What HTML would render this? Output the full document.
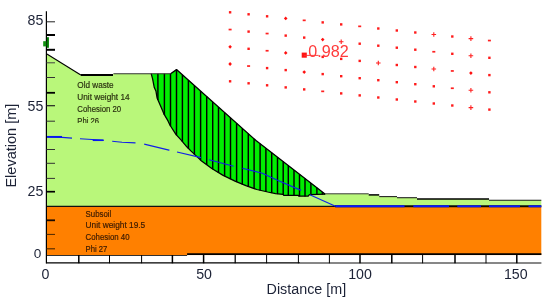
<!DOCTYPE html>
<html><head><meta charset="utf-8"><title>Slope stability</title>
<style>html,body{margin:0;padding:0;background:#fff}body{width:550px;height:304px;overflow:hidden}</style></head>
<body>
<svg width="550" height="304" viewBox="0 0 550 304" style="display:block">
<rect width="550" height="304" fill="#fff"/>
<polygon points="46.9,206.5 46.9,54.0 80.8,75.0 113.0,75.0 113.4,73.8 170.6,73.7 176.5,69.6 256.0,140.5 325.3,194.2 325.5,193.8 368.7,193.8 368.7,194.9 379.2,194.9 379.2,196.6 397.0,196.6 397.0,197.7 417.0,197.7 417.0,198.9 489.0,198.9 489.0,200.3 541.3,200.3 541.3,206.5" fill="#b9f77a"/>
<rect x="46.9" y="206.5" width="494.4" height="48.8" fill="#ff8000"/>
<polygon points="151.2,73.7 170.6,73.7 176.5,69.6 256.0,140.5 325.3,194.2 309.4,194.7 308.2,196.1 298.8,196.1 298.4,195.3 283.6,195.3 283.1,194.4 275.5,193.6 267.7,192.0 256.8,189.5 245.9,185.7 235.0,181.1 222.7,175.1 211.8,168.5 200.9,160.4 191.1,151.1 186.8,146.8 181.4,140.3 175.9,134.3 169.9,125.0 168.0,120.9 164.2,114.4 160.9,106.7 157.1,98.0 155.9,90.9 154.3,87.6 152.6,78.9 151.2,73.7" fill="#00ee00"/>
<line x1="157.9" y1="73.7" x2="157.9" y2="100.1" stroke="#000" stroke-width="1.45"/>
<line x1="164.4" y1="73.7" x2="164.4" y2="115.0" stroke="#000" stroke-width="1.45"/>
<line x1="170.5" y1="73.7" x2="170.5" y2="126.2" stroke="#000" stroke-width="1.45"/>
<line x1="176.5" y1="69.6" x2="176.5" y2="135.3" stroke="#000" stroke-width="1.45"/>
<line x1="182.4" y1="74.9" x2="182.4" y2="141.8" stroke="#000" stroke-width="1.45"/>
<line x1="188.4" y1="80.2" x2="188.4" y2="148.7" stroke="#000" stroke-width="1.45"/>
<line x1="194.4" y1="85.6" x2="194.4" y2="154.5" stroke="#000" stroke-width="1.45"/>
<line x1="200.6" y1="91.1" x2="200.6" y2="160.4" stroke="#000" stroke-width="1.45"/>
<line x1="206.7" y1="96.5" x2="206.7" y2="165.0" stroke="#000" stroke-width="1.45"/>
<line x1="212.7" y1="101.9" x2="212.7" y2="169.3" stroke="#000" stroke-width="1.45"/>
<line x1="218.5" y1="107.1" x2="218.5" y2="172.9" stroke="#000" stroke-width="1.45"/>
<line x1="224.6" y1="112.5" x2="224.6" y2="176.3" stroke="#000" stroke-width="1.45"/>
<line x1="230.5" y1="117.8" x2="230.5" y2="179.2" stroke="#000" stroke-width="1.45"/>
<line x1="236.6" y1="123.2" x2="236.6" y2="182.1" stroke="#000" stroke-width="1.45"/>
<line x1="242.3" y1="128.3" x2="242.3" y2="184.5" stroke="#000" stroke-width="1.45"/>
<line x1="248.3" y1="133.6" x2="248.3" y2="186.8" stroke="#000" stroke-width="1.45"/>
<line x1="254.1" y1="138.8" x2="254.1" y2="188.9" stroke="#000" stroke-width="1.45"/>
<line x1="260.1" y1="143.7" x2="260.1" y2="190.6" stroke="#000" stroke-width="1.45"/>
<line x1="265.9" y1="148.2" x2="265.9" y2="191.9" stroke="#000" stroke-width="1.45"/>
<line x1="271.7" y1="152.7" x2="271.7" y2="193.1" stroke="#000" stroke-width="1.45"/>
<line x1="277.5" y1="157.2" x2="277.5" y2="194.1" stroke="#000" stroke-width="1.45"/>
<line x1="283.2" y1="161.6" x2="283.2" y2="194.9" stroke="#000" stroke-width="1.45"/>
<line x1="288.3" y1="165.5" x2="288.3" y2="195.6" stroke="#000" stroke-width="1.45"/>
<line x1="294" y1="169.9" x2="294" y2="195.6" stroke="#000" stroke-width="1.45"/>
<line x1="299.5" y1="174.2" x2="299.5" y2="196.4" stroke="#000" stroke-width="1.45"/>
<line x1="305" y1="178.5" x2="305" y2="196.4" stroke="#000" stroke-width="1.45"/>
<line x1="310.9" y1="183.0" x2="310.9" y2="195.0" stroke="#000" stroke-width="1.45"/>
<line x1="316.9" y1="187.7" x2="316.9" y2="194.8" stroke="#000" stroke-width="1.45"/>
<line x1="322.4" y1="192.0" x2="322.4" y2="194.6" stroke="#000" stroke-width="1.45"/>
<polyline points="151.2,73.7 152.6,78.9 154.3,87.6 155.9,90.9 157.1,98.0 160.9,106.7 164.2,114.4 168.0,120.9 169.9,125.0 175.9,134.3 181.4,140.3 186.8,146.8 191.1,151.1 200.9,160.4 211.8,168.5 222.7,175.1 235.0,181.1 245.9,185.7 256.8,189.5 267.7,192.0 275.5,193.6 283.1,194.4 283.6,195.3 298.4,195.3 298.8,196.1 308.2,196.1 309.4,194.7 325.3,194.2" fill="none" stroke="#000" stroke-width="1.25" stroke-linejoin="round"/>
<polyline points="46.9,54.0 80.8,75.0" fill="none" stroke="#000" stroke-width="1.1"/>
<polyline points="80.8,75.0 113.0,75.0" fill="none" stroke="#000" stroke-width="1.8"/>
<polyline points="113.4,73.8 170.6,73.7" fill="none" stroke="#333" stroke-width="1.1"/>
<polyline points="170.6,73.7 176.5,69.6 256.0,140.5 325.3,194.2" fill="none" stroke="#000" stroke-width="1.3" stroke-linejoin="round"/>
<line x1="325.3" y1="193.8" x2="368.7" y2="193.8" stroke="#3a3a3a" stroke-width="1.0"/>
<line x1="368.7" y1="194.9" x2="379.2" y2="194.9" stroke="#000" stroke-width="1.5"/>
<line x1="379.2" y1="196.6" x2="397" y2="196.6" stroke="#222" stroke-width="1.1"/>
<line x1="397" y1="197.7" x2="417" y2="197.7" stroke="#222" stroke-width="1.1"/>
<line x1="417" y1="198.9" x2="489" y2="198.9" stroke="#000" stroke-width="1.5"/>
<line x1="489" y1="200.3" x2="541.3" y2="200.3" stroke="#1a1a1a" stroke-width="1.1"/>
<line x1="46.9" y1="206.4" x2="335" y2="206.4" stroke="#111" stroke-width="1.4"/>
<line x1="335" y1="206.3" x2="541.3" y2="206.3" stroke="#080808" stroke-width="1.9"/>
<polyline points="46.5,136.6 62.0,137.4 72.0,138.1" fill="none" stroke="#1020e8" stroke-width="1.15"/>
<polyline points="80.0,138.7 92.0,139.5 103.6,140.5" fill="none" stroke="#1020e8" stroke-width="1.15"/>
<polyline points="112.2,141.3 122.0,142.2 135.5,142.9" fill="none" stroke="#1020e8" stroke-width="1.15"/>
<polyline points="144.2,144.1 169.0,150.1 169.4,150.2" fill="none" stroke="#1020e8" stroke-width="1.15"/>
<polyline points="177.0,152.0 201.0,157.6" fill="none" stroke="#1020e8" stroke-width="1.15"/>
<polyline points="209.1,159.7 233.6,166.2" fill="none" stroke="#1020e8" stroke-width="1.15"/>
<polyline points="242.4,168.3 262.3,173.2 278.6,180.8 301.1,190.4" fill="none" stroke="#1020e8" stroke-width="1.15"/>
<polyline points="309.8,194.7 335.5,206.3" fill="none" stroke="#1020e8" stroke-width="1.15"/>
<line x1="335.5" y1="206.3" x2="404.5" y2="206.3" stroke="#0818ff" stroke-width="1.9"/>
<line x1="413.3" y1="206.3" x2="449" y2="206.3" stroke="#0818ff" stroke-width="1.9"/>
<line x1="457.3" y1="206.3" x2="481" y2="206.3" stroke="#0818ff" stroke-width="1.9"/>
<line x1="489" y1="206.3" x2="520" y2="206.3" stroke="#0818ff" stroke-width="1.9"/>
<line x1="528.5" y1="206.3" x2="541.3" y2="206.3" stroke="#0818ff" stroke-width="1.9"/>
<line x1="46.5" y1="136.9" x2="62" y2="136.9" stroke="#0818f0" stroke-width="1.9"/>
<line x1="92.7" y1="140.2" x2="103.6" y2="140.2" stroke="#0818f0" stroke-width="1.7"/>
<line x1="46.4" y1="11.3" x2="46.4" y2="263.6" stroke="#000" stroke-width="1.2"/>
<line x1="46.4" y1="21.8" x2="55" y2="21.8" stroke="#222" stroke-width="1.0"/>
<line x1="46.4" y1="35" x2="55" y2="35" stroke="#000" stroke-width="2.0"/>
<line x1="46.4" y1="49.8" x2="55" y2="49.8" stroke="#000" stroke-width="2.0"/>
<line x1="46.4" y1="62.8" x2="55" y2="62.8" stroke="#444" stroke-width="1.0"/>
<line x1="46.4" y1="77.5" x2="55" y2="77.5" stroke="#333" stroke-width="1.0"/>
<line x1="46.4" y1="92.8" x2="55" y2="92.8" stroke="#000" stroke-width="1.8"/>
<line x1="46.4" y1="105.7" x2="55" y2="105.7" stroke="#222" stroke-width="1.2"/>
<line x1="46.4" y1="121.2" x2="55" y2="121.2" stroke="#333" stroke-width="1.0"/>
<line x1="46.4" y1="149.5" x2="55" y2="149.5" stroke="#333" stroke-width="1.0"/>
<line x1="46.4" y1="163.3" x2="55" y2="163.3" stroke="#333" stroke-width="1.0"/>
<line x1="46.4" y1="178.4" x2="55" y2="178.4" stroke="#333" stroke-width="1.0"/>
<line x1="46.4" y1="191.7" x2="55" y2="191.7" stroke="#000" stroke-width="1.7"/>
<line x1="46.4" y1="220.3" x2="55" y2="220.3" stroke="#1a0a00" stroke-width="1.8"/>
<line x1="46.4" y1="234.4" x2="55" y2="234.4" stroke="#4a2600" stroke-width="1.0"/>
<line x1="46.4" y1="248.8" x2="55" y2="248.8" stroke="#4a2600" stroke-width="1.1"/>
<rect x="46.9" y="37.2" width="2" height="10.6" fill="#007a00"/>
<rect x="43.2" y="41.2" width="3.2" height="5.2" fill="#109010"/>
<rect x="47" y="255.3" width="503" height="9" fill="#fff"/>
<line x1="46.4" y1="255.5" x2="187.1" y2="255.5" stroke="#000" stroke-width="0.8"/>
<line x1="187.1" y1="254.2" x2="541.4" y2="254.2" stroke="#000" stroke-width="1.7"/>
<line x1="46.4" y1="262.9" x2="300" y2="262.9" stroke="#000" stroke-width="1.3"/>
<line x1="300" y1="263" x2="541.4" y2="263" stroke="#111" stroke-width="1.1"/>
<line x1="78.8" y1="255" x2="78.8" y2="263.3" stroke="#000" stroke-width="1.5"/>
<line x1="109.5" y1="255" x2="109.5" y2="263.3" stroke="#000" stroke-width="1.0"/>
<line x1="141.6" y1="255" x2="141.6" y2="263.3" stroke="#000" stroke-width="1.0"/>
<line x1="172.4" y1="255" x2="172.4" y2="263.3" stroke="#000" stroke-width="1.5"/>
<line x1="203.6" y1="255" x2="203.6" y2="263.3" stroke="#000" stroke-width="1.5"/>
<line x1="235.2" y1="255" x2="235.2" y2="263.3" stroke="#000" stroke-width="1.25"/>
<line x1="266.6" y1="255" x2="266.6" y2="263.3" stroke="#000" stroke-width="1.0"/>
<line x1="298.4" y1="255" x2="298.4" y2="263.3" stroke="#000" stroke-width="1.0"/>
<line x1="329.4" y1="255" x2="329.4" y2="263.3" stroke="#000" stroke-width="1.0"/>
<line x1="360.0" y1="255" x2="360.0" y2="263.3" stroke="#000" stroke-width="1.5"/>
<line x1="391.8" y1="255" x2="391.8" y2="263.3" stroke="#000" stroke-width="1.5"/>
<line x1="422.6" y1="255" x2="422.6" y2="263.3" stroke="#000" stroke-width="1.0"/>
<line x1="455.0" y1="255" x2="455.0" y2="263.3" stroke="#000" stroke-width="1.5"/>
<line x1="486.0" y1="255" x2="486.0" y2="263.3" stroke="#000" stroke-width="1.0"/>
<line x1="516.8" y1="255" x2="516.8" y2="263.3" stroke="#000" stroke-width="1.5"/>
<rect x="228.9" y="11.1" width="2.4" height="2.4" fill="#ff1a1a"/>
<rect x="247.4" y="13.1" width="2.4" height="2.4" fill="#ff1a1a"/>
<rect x="265.9" y="15.1" width="2.4" height="2.4" fill="#ff1a1a"/>
<path d="M283.9 18.4L285.7 16.5L287.5 18.4L285.7 20.3Z" fill="#ff1010"/>
<rect x="302.7" y="19.5" width="3" height="1.7" fill="#ff2020"/>
<rect x="321.5" y="21.2" width="2.4" height="2.4" fill="#ff1a1a"/>
<rect x="340.0" y="23.2" width="2.4" height="2.4" fill="#ff1a1a"/>
<rect x="358.2" y="25.5" width="3" height="1.7" fill="#ff2020"/>
<rect x="377.1" y="27.3" width="2.4" height="2.4" fill="#ff1a1a"/>
<rect x="395.6" y="29.3" width="2.4" height="2.4" fill="#ff1a1a"/>
<rect x="414.1" y="31.3" width="2.4" height="2.4" fill="#ff1a1a"/>
<path d="M431.5 34.5h4.6M433.8 32.2v4.6" stroke="#ff2020" stroke-width="1.1"/>
<rect x="451.1" y="35.3" width="2.4" height="2.4" fill="#ff1a1a"/>
<path d="M468.6 38.6h4.6M470.9 36.3v4.6" stroke="#ff2020" stroke-width="1.1"/>
<rect x="487.9" y="39.7" width="3" height="1.7" fill="#ff2020"/>
<rect x="228.6" y="28.7" width="3" height="1.7" fill="#ff2020"/>
<rect x="247.4" y="30.4" width="2.4" height="2.4" fill="#ff1a1a"/>
<rect x="265.6" y="32.7" width="3" height="1.7" fill="#ff2020"/>
<rect x="284.5" y="34.4" width="2.4" height="2.4" fill="#ff1a1a"/>
<rect x="303.0" y="36.4" width="2.4" height="2.4" fill="#ff1a1a"/>
<path d="M320.9 39.6L322.7 37.8L324.5 39.6L322.7 41.5Z" fill="#ff1010"/>
<path d="M338.9 41.7h4.6M341.2 39.4v4.6" stroke="#ff2020" stroke-width="1.1"/>
<rect x="358.5" y="42.5" width="2.4" height="2.4" fill="#ff1a1a"/>
<rect x="377.1" y="44.5" width="2.4" height="2.4" fill="#ff1a1a"/>
<rect x="395.6" y="46.5" width="2.4" height="2.4" fill="#ff1a1a"/>
<rect x="414.1" y="48.5" width="2.4" height="2.4" fill="#ff1a1a"/>
<rect x="432.3" y="50.9" width="3" height="1.7" fill="#ff2020"/>
<rect x="451.1" y="52.6" width="2.4" height="2.4" fill="#ff1a1a"/>
<path d="M468.6 55.8h4.6M470.9 53.5v4.6" stroke="#ff2020" stroke-width="1.1"/>
<rect x="488.2" y="56.6" width="2.4" height="2.4" fill="#ff1a1a"/>
<path d="M228.3 46.8L230.1 44.9L231.9 46.8L230.1 48.7Z" fill="#ff1010"/>
<rect x="247.4" y="47.6" width="2.4" height="2.4" fill="#ff1a1a"/>
<rect x="265.6" y="49.9" width="3" height="1.7" fill="#ff2020"/>
<path d="M283.9 52.9L285.7 51.0L287.5 52.9L285.7 54.8Z" fill="#ff1010"/>
<rect x="321.5" y="55.7" width="2.4" height="2.4" fill="#ff1a1a"/>
<rect x="340.0" y="57.7" width="2.4" height="2.4" fill="#ff1a1a"/>
<rect x="358.5" y="59.7" width="2.4" height="2.4" fill="#ff1a1a"/>
<path d="M376.0 63.0h4.6M378.3 60.7v4.6" stroke="#ff2020" stroke-width="1.1"/>
<rect x="395.6" y="63.8" width="2.4" height="2.4" fill="#ff1a1a"/>
<rect x="414.1" y="65.8" width="2.4" height="2.4" fill="#ff1a1a"/>
<path d="M431.5 69.0h4.6M433.8 66.7v4.6" stroke="#ff2020" stroke-width="1.1"/>
<rect x="450.8" y="70.1" width="3" height="1.7" fill="#ff2020"/>
<path d="M469.1 73.1L470.9 71.2L472.7 73.1L470.9 75.0Z" fill="#ff1010"/>
<rect x="488.2" y="73.9" width="2.4" height="2.4" fill="#ff1a1a"/>
<path d="M228.3 64.0L230.1 62.1L231.9 64.0L230.1 66.0Z" fill="#ff1010"/>
<rect x="247.1" y="65.2" width="3" height="1.7" fill="#ff2020"/>
<rect x="265.9" y="66.9" width="2.4" height="2.4" fill="#ff1a1a"/>
<rect x="284.5" y="68.9" width="2.4" height="2.4" fill="#ff1a1a"/>
<path d="M302.4 72.1L304.2 70.2L306.0 72.1L304.2 74.0Z" fill="#ff1010"/>
<rect x="321.5" y="72.9" width="2.4" height="2.4" fill="#ff1a1a"/>
<rect x="340.0" y="75.0" width="2.4" height="2.4" fill="#ff1a1a"/>
<rect x="358.5" y="77.0" width="2.4" height="2.4" fill="#ff1a1a"/>
<rect x="377.1" y="79.0" width="2.4" height="2.4" fill="#ff1a1a"/>
<rect x="395.6" y="81.0" width="2.4" height="2.4" fill="#ff1a1a"/>
<rect x="414.1" y="83.0" width="2.4" height="2.4" fill="#ff1a1a"/>
<rect x="432.6" y="85.1" width="2.4" height="2.4" fill="#ff1a1a"/>
<rect x="450.8" y="87.4" width="3" height="1.7" fill="#ff2020"/>
<path d="M468.6 90.3h4.6M470.9 88.0v4.6" stroke="#ff2020" stroke-width="1.1"/>
<rect x="488.2" y="91.1" width="2.4" height="2.4" fill="#ff1a1a"/>
<rect x="228.9" y="80.1" width="2.4" height="2.4" fill="#ff1a1a"/>
<rect x="247.4" y="82.1" width="2.4" height="2.4" fill="#ff1a1a"/>
<rect x="265.9" y="84.1" width="2.4" height="2.4" fill="#ff1a1a"/>
<rect x="284.5" y="86.2" width="2.4" height="2.4" fill="#ff1a1a"/>
<rect x="303.0" y="88.2" width="2.4" height="2.4" fill="#ff1a1a"/>
<rect x="321.2" y="90.5" width="3" height="1.7" fill="#ff2020"/>
<rect x="340.0" y="92.2" width="2.4" height="2.4" fill="#ff1a1a"/>
<rect x="358.5" y="94.2" width="2.4" height="2.4" fill="#ff1a1a"/>
<rect x="377.1" y="96.3" width="2.4" height="2.4" fill="#ff1a1a"/>
<rect x="395.6" y="98.3" width="2.4" height="2.4" fill="#ff1a1a"/>
<rect x="414.1" y="100.3" width="2.4" height="2.4" fill="#ff1a1a"/>
<rect x="432.6" y="102.3" width="2.4" height="2.4" fill="#ff1a1a"/>
<rect x="451.1" y="104.3" width="2.4" height="2.4" fill="#ff1a1a"/>
<path d="M468.6 107.6h4.6M470.9 105.3v4.6" stroke="#ff2020" stroke-width="1.1"/>
<rect x="488.2" y="108.4" width="2.4" height="2.4" fill="#ff1a1a"/>
<rect x="301.7" y="52.6" width="5.1" height="5.1" fill="#ff1414"/>
<line x1="304" y1="55.4" x2="318.6" y2="55.4" stroke="#ff3030" stroke-width="0.9"/>
<text x="308.3" y="56.9" textLength="40.4" lengthAdjust="spacingAndGlyphs" font-family="Liberation Sans, sans-serif" font-size="15.7" fill="#ff3a3a">0.982</text>
<text x="43.3" y="24.799999999999997" text-anchor="end" font-family="Liberation Sans, sans-serif" font-size="14.2" fill="#1c2236">85</text>
<text x="43.3" y="110.6" text-anchor="end" font-family="Liberation Sans, sans-serif" font-size="14.2" fill="#1c2236">55</text>
<text x="43.3" y="196.4" text-anchor="end" font-family="Liberation Sans, sans-serif" font-size="14.2" fill="#1c2236">25</text>
<text x="41.2" y="258.2" text-anchor="end" font-family="Liberation Sans, sans-serif" font-size="13.6" fill="#1c2236">0</text>
<text x="45.5" y="279.2" text-anchor="middle" font-family="Liberation Sans, sans-serif" font-size="14.2" fill="#1c2236">0</text>
<text x="204.1" y="279.2" text-anchor="middle" font-family="Liberation Sans, sans-serif" font-size="14.2" fill="#1c2236">50</text>
<text x="360" y="279.2" text-anchor="middle" font-family="Liberation Sans, sans-serif" font-size="14.2" fill="#1c2236">100</text>
<text x="515.8" y="279.2" text-anchor="middle" font-family="Liberation Sans, sans-serif" font-size="14.2" fill="#1c2236">150</text>
<text x="266.6" y="294.2" textLength="79.6" lengthAdjust="spacingAndGlyphs" font-family="Liberation Sans, sans-serif" font-size="14" fill="#1c2236">Distance [m]</text>
<text transform="translate(16.2,187.6) rotate(-90)" textLength="84" lengthAdjust="spacingAndGlyphs" font-family="Liberation Sans, sans-serif" font-size="14.2" fill="#1c2236">Elevation [m]</text>
<clipPath id="c1"><rect x="70" y="76" width="100" height="46.9"/></clipPath>
<g clip-path="url(#c1)">
<text x="77.3" y="88.4" textLength="36.3" lengthAdjust="spacingAndGlyphs" font-family="Liberation Sans, sans-serif" font-size="8.5" fill="#2a3010" stroke="#2a3010" stroke-width="0.18">Old waste</text>
<text x="77.3" y="99.9" textLength="52.3" lengthAdjust="spacingAndGlyphs" font-family="Liberation Sans, sans-serif" font-size="8.5" fill="#2a3010" stroke="#2a3010" stroke-width="0.18">Unit weight 14</text>
<text x="77.3" y="111.6" textLength="43.9" lengthAdjust="spacingAndGlyphs" font-family="Liberation Sans, sans-serif" font-size="8.5" fill="#2a3010" stroke="#2a3010" stroke-width="0.18">Cohesion 20</text>
<text x="77.3" y="123.8" textLength="21.8" lengthAdjust="spacingAndGlyphs" font-family="Liberation Sans, sans-serif" font-size="8.5" fill="#2a3010" stroke="#2a3010" stroke-width="0.18">Phi 26</text>
</g>
<text x="85.6" y="216.8" textLength="25.7" lengthAdjust="spacingAndGlyphs" font-family="Liberation Sans, sans-serif" font-size="8.5" fill="#3a1a00" stroke="#3a1a00" stroke-width="0.18">Subsoil</text>
<text x="85.6" y="228.4" textLength="59.6" lengthAdjust="spacingAndGlyphs" font-family="Liberation Sans, sans-serif" font-size="8.5" fill="#3a1a00" stroke="#3a1a00" stroke-width="0.18">Unit weight 19.5</text>
<text x="85.6" y="240.1" textLength="44" lengthAdjust="spacingAndGlyphs" font-family="Liberation Sans, sans-serif" font-size="8.5" fill="#3a1a00" stroke="#3a1a00" stroke-width="0.18">Cohesion 40</text>
<text x="85.6" y="251.6" textLength="21.8" lengthAdjust="spacingAndGlyphs" font-family="Liberation Sans, sans-serif" font-size="8.5" fill="#3a1a00" stroke="#3a1a00" stroke-width="0.18">Phi 27</text>
</svg>
</body></html>
